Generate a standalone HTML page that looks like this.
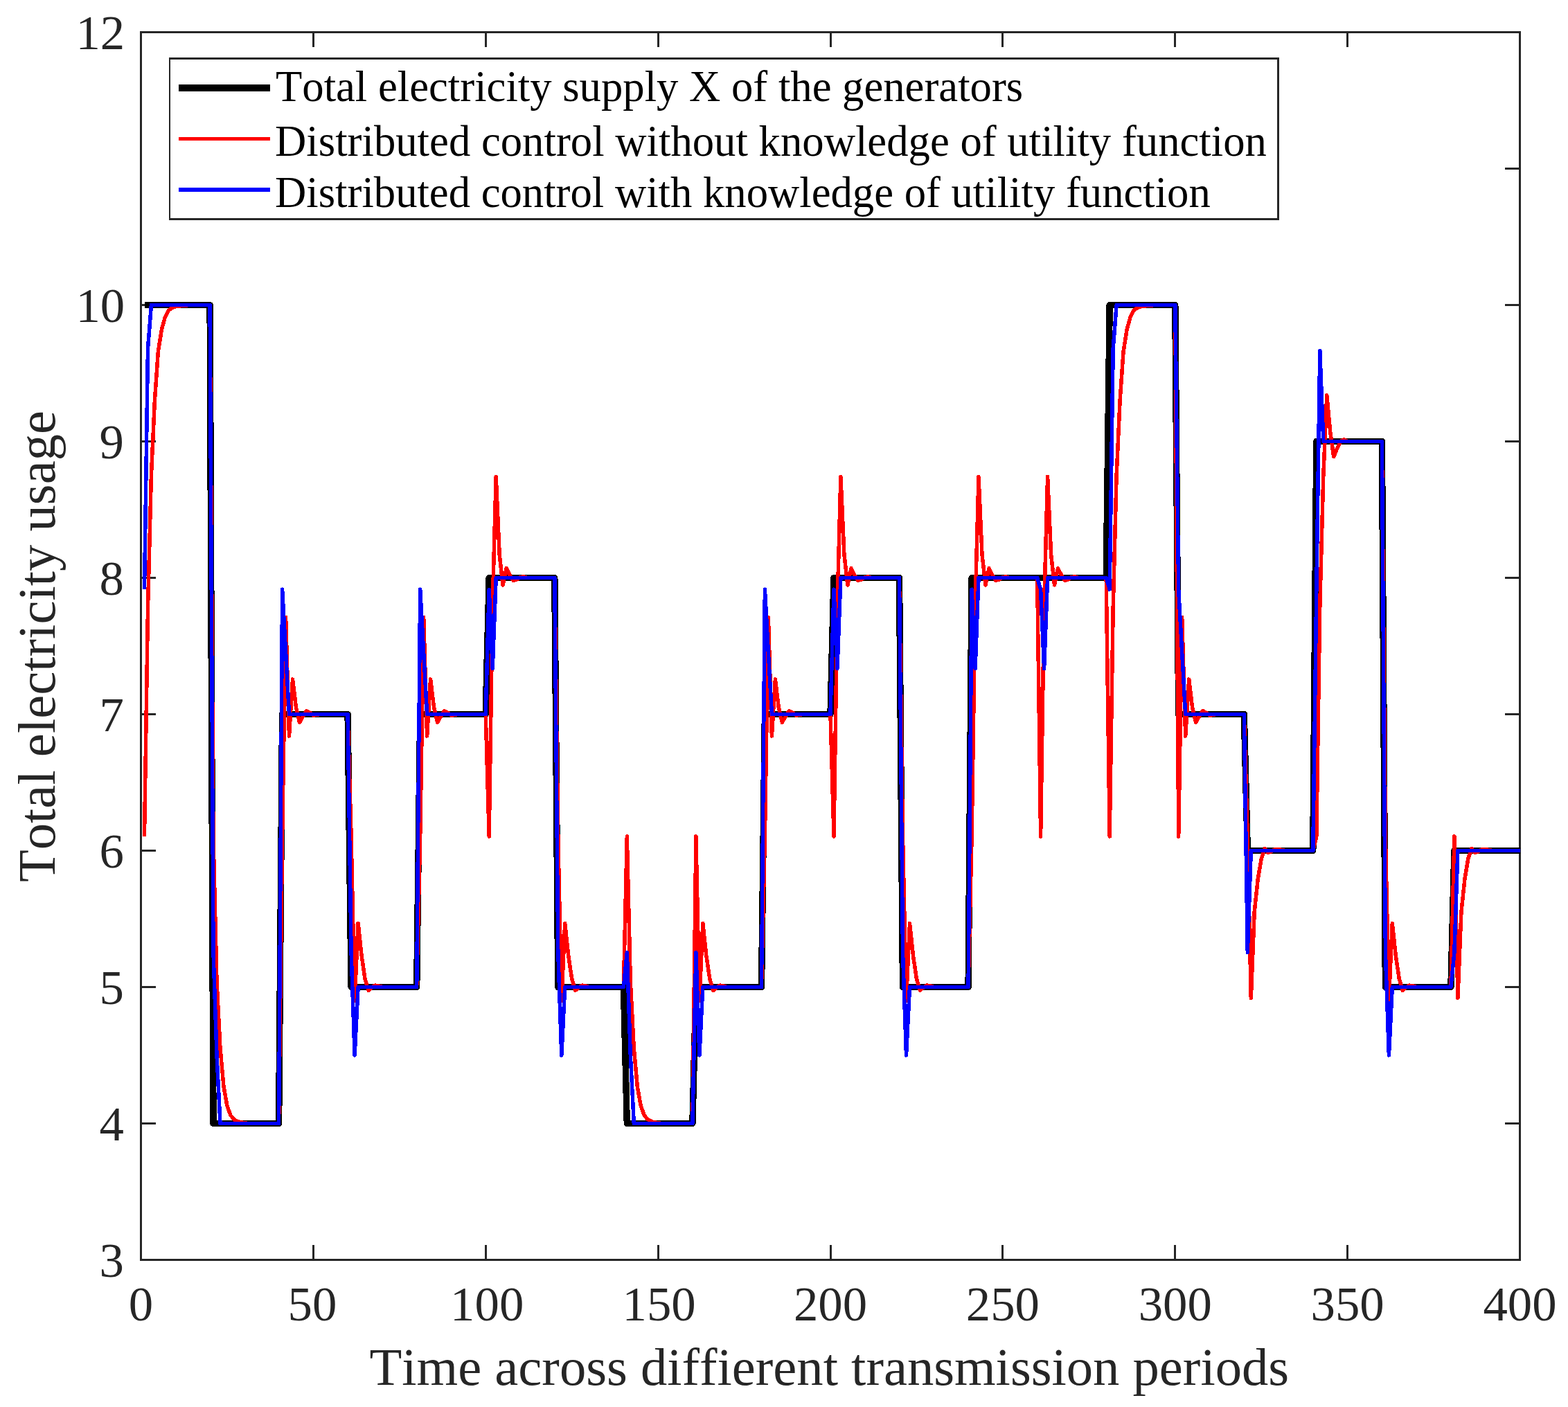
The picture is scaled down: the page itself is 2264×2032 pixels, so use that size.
<!DOCTYPE html>
<html lang="en"><head><meta charset="utf-8"><title>Total electricity usage</title>
<style>html,body{margin:0;padding:0;background:#ffffff}body{width:2264px;height:2032px;overflow:hidden}svg{display:block}text{font-family:"Liberation Serif","Times New Roman",Times,serif;font-kerning:none;font-variant-ligatures:none}.tk{font-size:70.8px;fill:#262626}.lb{font-size:76.65px;fill:#262626}.lg{font-size:62.7px;fill:#000}</style></head><body>
<svg width="2264" height="2032" viewBox="0 0 2264 2032">
<rect x="0" y="0" width="2264" height="2032" fill="#ffffff"/>
<g fill="none" stroke="#262626" stroke-width="3" shape-rendering="crispEdges">
<rect x="203.5" y="46.5" width="1991.0" height="1773.0"/>
<path d="M452.4 1819.5V1798.0M452.4 46.5V68.0M701.2 1819.5V1798.0M701.2 46.5V68.0M950.1 1819.5V1798.0M950.1 46.5V68.0M1199.0 1819.5V1798.0M1199.0 46.5V68.0M1447.9 1819.5V1798.0M1447.9 46.5V68.0M1696.8 1819.5V1798.0M1696.8 46.5V68.0M1945.6 1819.5V1798.0M1945.6 46.5V68.0M203.5 1622.5H225.0M2194.5 1622.5H2173.0M203.5 1425.5H225.0M2194.5 1425.5H2173.0M203.5 1228.5H225.0M2194.5 1228.5H2173.0M203.5 1031.5H225.0M2194.5 1031.5H2173.0M203.5 834.5H225.0M2194.5 834.5H2173.0M203.5 637.5H225.0M2194.5 637.5H2173.0M203.5 440.5H225.0M2194.5 440.5H2173.0M2194.5 243.5H2173.0"/>
</g>
<g fill="none" stroke-linejoin="round" stroke-linecap="butt" shape-rendering="crispEdges">
<polyline stroke="#000" stroke-width="9.4" points="208.5,440.5 303.1,440.5 308.0,1622.5 402.6,1622.5 407.6,1031.5 502.1,1031.5 507.1,1425.5 601.7,1425.5 606.7,1031.5 701.2,1031.5 706.2,834.5 800.8,834.5 805.8,1425.5 900.4,1425.5 905.3,1622.5 999.9,1622.5 1004.9,1425.5 1099.5,1425.5 1104.4,1031.5 1199.0,1031.5 1204.0,834.5 1298.5,834.5 1303.5,1425.5 1398.1,1425.5 1403.1,834.5 1597.2,834.5 1602.2,440.5 1696.8,440.5 1701.7,1031.5 1796.3,1031.5 1801.3,1228.5 1895.8,1228.5 1900.8,637.5 1995.4,637.5 2000.4,1425.5 2094.9,1425.5 2099.9,1228.5 2194.5,1228.5"/>
<polyline stroke="#f00" stroke-width="5.5" points="208.5,1208.0 213.5,877.8 218.4,686.8 223.4,578.4 228.4,507.5 233.4,476.0 238.3,458.2 243.3,448.4 248.3,444.4 253.3,442.9 258.3,442.1 263.2,441.5 268.2,441.1 273.2,440.5 303.1,440.5 308.0,1208.0 313.0,1417.6 318.0,1514.2 323.0,1569.3 327.9,1596.9 332.9,1610.7 337.9,1616.6 342.9,1619.5 347.8,1620.9 352.8,1621.5 357.8,1622.5 402.6,1622.5 407.6,1208.0 412.6,891.6 417.5,1063.0 422.5,981.1 427.5,1021.7 432.5,1043.3 437.4,1034.5 442.4,1026.6 447.4,1029.1 452.4,1033.1 457.4,1032.5 462.3,1031.5 502.1,1031.5 507.1,1208.0 512.1,1445.2 517.1,1333.5 522.1,1380.2 527.0,1413.7 532.0,1430.4 537.0,1425.9 542.0,1423.1 546.9,1423.9 551.9,1425.5 601.7,1425.5 606.7,1208.0 611.7,891.6 616.6,1063.0 621.6,981.1 626.6,1021.7 631.6,1043.3 636.5,1034.5 641.5,1026.6 646.5,1029.1 651.5,1033.1 656.5,1032.5 661.4,1031.5 701.2,1031.5 706.2,1208.0 711.2,873.9 716.2,688.3 721.2,801.0 726.1,844.9 731.1,820.7 736.1,830.6 741.1,838.4 746.0,836.9 751.0,833.5 756.0,832.9 761.0,834.5 800.8,834.5 805.8,1208.0 810.8,1445.2 815.7,1333.5 820.7,1380.2 825.7,1413.7 830.7,1430.4 835.6,1425.9 840.6,1423.1 845.6,1423.9 850.6,1425.5 900.4,1425.5 905.3,1208.0 910.3,1417.6 915.3,1514.2 920.3,1569.3 925.2,1596.9 930.2,1610.7 935.2,1616.6 940.2,1619.5 945.1,1620.9 950.1,1621.5 955.1,1622.5 999.9,1622.5 1004.9,1208.0 1009.9,1445.2 1014.8,1333.5 1019.8,1380.2 1024.8,1413.7 1029.8,1430.4 1034.7,1425.9 1039.7,1423.1 1044.7,1423.9 1049.7,1425.5 1099.5,1425.5 1104.4,1208.0 1109.4,891.6 1114.4,1063.0 1119.4,981.1 1124.3,1021.7 1129.3,1043.3 1134.3,1034.5 1139.3,1026.6 1144.2,1029.1 1149.2,1033.1 1154.2,1032.5 1159.2,1031.5 1199.0,1031.5 1204.0,1208.0 1209.0,873.9 1213.9,688.3 1218.9,801.0 1223.9,844.9 1228.9,820.7 1233.8,830.6 1238.8,838.4 1243.8,836.9 1248.8,833.5 1253.8,832.9 1258.7,834.5 1298.5,834.5 1303.5,1208.0 1308.5,1445.2 1313.5,1333.5 1318.5,1380.2 1323.4,1413.7 1328.4,1430.4 1333.4,1425.9 1338.4,1423.1 1343.3,1423.9 1348.3,1425.5 1398.1,1425.5 1403.1,1208.0 1408.1,873.9 1413.0,688.3 1418.0,801.0 1423.0,844.9 1428.0,820.7 1432.9,830.6 1437.9,838.4 1442.9,836.9 1447.9,833.5 1452.9,832.9 1457.8,834.5 1497.7,834.5 1502.6,1208.0 1507.6,873.9 1512.6,688.3 1517.6,801.0 1522.5,844.9 1527.5,820.7 1532.5,830.6 1537.5,838.4 1542.4,836.9 1547.4,833.5 1552.4,832.9 1557.4,834.5 1597.2,834.5 1602.2,1208.0 1607.2,877.8 1612.1,686.8 1617.1,578.4 1622.1,507.5 1627.1,476.0 1632.0,458.2 1637.0,448.4 1642.0,444.4 1647.0,442.9 1652.0,442.1 1656.9,441.5 1661.9,441.1 1666.9,440.5 1696.8,440.5 1701.7,1208.0 1706.7,891.6 1711.7,1063.0 1716.7,981.1 1721.6,1021.7 1726.6,1043.3 1731.6,1034.5 1736.6,1026.6 1741.5,1029.1 1746.5,1033.1 1751.5,1032.5 1756.5,1031.5 1796.3,1031.5 1801.3,1208.0 1806.3,1441.3 1811.2,1317.2 1816.2,1269.9 1821.2,1240.3 1826.2,1225.5 1831.1,1231.5 1836.1,1229.5 1841.1,1226.5 1846.1,1226.5 1851.1,1227.5 1856.0,1228.5 1895.8,1228.5 1900.8,1208.0 1905.8,873.9 1910.8,686.8 1915.8,570.9 1920.7,623.7 1925.7,659.6 1930.7,647.4 1935.7,637.5 1940.6,634.9 1945.6,637.5 1995.4,637.5 2000.4,1208.0 2005.4,1445.2 2010.3,1333.5 2015.3,1380.2 2020.3,1413.7 2025.3,1430.4 2030.2,1425.9 2035.2,1423.1 2040.2,1423.9 2045.2,1425.5 2094.9,1425.5 2099.9,1208.0 2104.9,1441.3 2109.9,1317.2 2114.9,1269.9 2119.8,1240.3 2124.8,1225.5 2129.8,1231.5 2134.8,1229.5 2139.7,1226.5 2144.7,1226.5 2149.7,1227.5 2154.7,1228.5 2194.5,1228.5"/>
<polyline stroke="#00f" stroke-width="5.5" points="208.5,851.2 213.5,503.5 218.4,440.5 303.1,440.5 308.0,1375.5 313.0,1524.0 318.0,1622.5 402.6,1622.5 407.6,851.2 412.6,942.8 417.5,1031.5 502.1,1031.5 507.1,1375.5 512.1,1524.0 517.1,1425.5 601.7,1425.5 606.7,851.2 611.7,942.8 616.6,1031.5 701.2,1031.5 706.2,851.2 711.2,965.5 716.2,834.5 800.8,834.5 805.8,1375.5 810.8,1524.0 815.7,1425.5 900.4,1425.5 905.3,1375.5 910.3,1524.0 915.3,1622.5 999.9,1622.5 1004.9,1375.5 1009.9,1524.0 1014.8,1425.5 1099.5,1425.5 1104.4,851.2 1109.4,942.8 1114.4,1031.5 1199.0,1031.5 1204.0,851.2 1209.0,965.5 1213.9,834.5 1298.5,834.5 1303.5,1375.5 1308.5,1524.0 1313.5,1425.5 1398.1,1425.5 1403.1,851.2 1408.1,965.5 1413.0,834.5 1497.7,834.5 1502.6,851.2 1507.6,965.5 1512.6,834.5 1597.2,834.5 1602.2,851.2 1607.2,503.5 1612.1,440.5 1696.8,440.5 1701.7,851.2 1706.7,942.8 1711.7,1031.5 1796.3,1031.5 1801.3,1375.5 1806.3,1228.5 1895.8,1228.5 1900.8,851.2 1905.8,506.5 1910.8,637.5 1995.4,637.5 2000.4,1375.5 2005.4,1524.0 2010.3,1425.5 2094.9,1425.5 2099.9,1375.5 2104.9,1228.5 2194.5,1228.5"/>
</g>
<g class="tk" text-anchor="middle">
<text x="203.5" y="1907.3">0</text>
<text x="450.9" y="1907.3">50</text>
<text x="703.2" y="1907.3">100</text>
<text x="951.6" y="1907.3">150</text>
<text x="1199.0" y="1907.3">200</text>
<text x="1447.9" y="1907.3">250</text>
<text x="1696.8" y="1907.3">300</text>
<text x="1945.6" y="1907.3">350</text>
<text x="2194.5" y="1907.3">400</text>
</g>
<g class="tk" text-anchor="end">
<text x="179" y="1844.0">3</text>
<text x="179" y="1647.0">4</text>
<text x="179" y="1450.0">5</text>
<text x="179" y="1253.0">6</text>
<text x="179" y="1056.0">7</text>
<text x="179" y="859.0">8</text>
<text x="179" y="662.0">9</text>
<text x="180.2" y="465.0">10</text>
<text x="180.2" y="71.0">12</text>
</g>
<text class="lb" text-anchor="middle" x="1197.3" y="2000" textLength="1327.6" lengthAdjust="spacing">Time across diffierent transmission periods</text>
<text class="lb" text-anchor="middle" transform="translate(79 933.5) rotate(-90)" textLength="681.2" lengthAdjust="spacing">Total electricity usage</text>
<rect x="245" y="84.5" width="1600.5" height="232" fill="#ffffff" stroke="#262626" stroke-width="2.3" shape-rendering="crispEdges"/>
<g shape-rendering="crispEdges">
<rect x="258" y="122" width="132" height="10" fill="#000"/>
<rect x="258" y="198" width="132" height="5" fill="#f00"/>
<rect x="258" y="271" width="132" height="6" fill="#00f"/>
</g>
<g class="lg">
<text x="398" y="146" textLength="1079.2" lengthAdjust="spacing">Total electricity supply X of the generators</text>
<text x="397" y="225" textLength="1431.9" lengthAdjust="spacing">Distributed control without knowledge of utility function</text>
<text x="397" y="299" textLength="1350.8" lengthAdjust="spacing">Distributed control with knowledge of utility function</text>
</g>
</svg></body></html>
